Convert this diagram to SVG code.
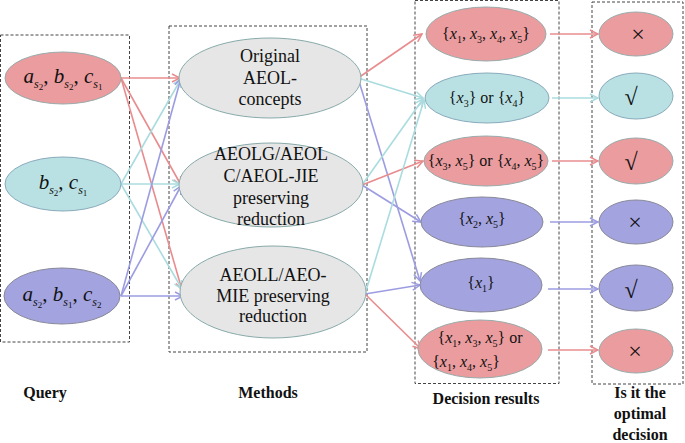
<svg xmlns="http://www.w3.org/2000/svg" width="685" height="443" viewBox="0 0 685 443" font-family="'Liberation Serif','Times New Roman',serif">
<style>
.box{fill:none;stroke:#444;stroke-width:1;stroke-dasharray:3,2}
.r{fill:#eb9c9e;stroke:#9aa;stroke-width:1}
.c{fill:#b9e1e3;stroke:#8ab;stroke-width:1}
.p{fill:#a3a3df;stroke:#889;stroke-width:1}
.g{fill:#e6e6e6;stroke:#8aa;stroke-width:1}
text{fill:#111;font-family:"Liberation Serif","Times New Roman",serif}
.m{font-size:18px;text-anchor:middle}
.sym{font-size:24px;text-anchor:middle}
.mi{font-size:21px;font-style:italic;text-anchor:middle}
.s{font-size:16px;text-anchor:middle}
.lab{font-size:16px;font-weight:bold;text-anchor:middle}
.lr{stroke:#e88c8e;stroke-width:1.6;fill:none}
.lc{stroke:#aadcdf;stroke-width:1.6;fill:none}
.lp{stroke:#9c9ce2;stroke-width:1.6;fill:none}
</style>
<defs>
<marker id="ar" markerWidth="10" markerHeight="10" refX="9" refY="5" orient="auto" markerUnits="userSpaceOnUse"><path d="M1,1 L9,5 L1,9" fill="none" stroke="#e88c8e" stroke-width="1.5"/></marker>
<marker id="ac" markerWidth="10" markerHeight="10" refX="9" refY="5" orient="auto" markerUnits="userSpaceOnUse"><path d="M1,1 L9,5 L1,9" fill="none" stroke="#aadcdf" stroke-width="1.5"/></marker>
<marker id="ap" markerWidth="10" markerHeight="10" refX="9" refY="5" orient="auto" markerUnits="userSpaceOnUse"><path d="M1,1 L9,5 L1,9" fill="none" stroke="#9c9ce2" stroke-width="1.5"/></marker>
</defs>
<rect class="box" x="0.5" y="35" width="129" height="307"/>
<rect class="box" x="169" y="26" width="198" height="326"/>
<rect class="box" x="415" y="0.5" width="144" height="383"/>
<rect class="box" x="592" y="2" width="91" height="382"/>
<g id="connectors">
<line class="lr" x1="121" y1="78" x2="180" y2="78" marker-end="url(#ar)"/>
<line class="lr" x1="121" y1="78" x2="181" y2="185" marker-end="url(#ar)"/>
<line class="lr" x1="121" y1="78" x2="182" y2="290" marker-end="url(#ar)"/>
<line class="lc" x1="121" y1="184" x2="181" y2="79" marker-end="url(#ac)"/>
<line class="lc" x1="121" y1="184" x2="180" y2="184" marker-end="url(#ac)"/>
<line class="lc" x1="121" y1="184" x2="182" y2="289" marker-end="url(#ac)"/>
<line class="lp" x1="121" y1="296" x2="181" y2="78" marker-end="url(#ap)"/>
<line class="lp" x1="121" y1="296" x2="181" y2="186" marker-end="url(#ap)"/>
<line class="lp" x1="121" y1="296" x2="183" y2="296" marker-end="url(#ap)"/>
<line class="lr" x1="358" y1="78" x2="422" y2="34" marker-end="url(#ar)"/>
<line class="lc" x1="358" y1="78" x2="423" y2="98" marker-end="url(#ac)"/>
<line class="lp" x1="358" y1="78" x2="420" y2="281" marker-end="url(#ap)"/>
<line class="lc" x1="362" y1="185" x2="423" y2="99" marker-end="url(#ac)"/>
<line class="lr" x1="362" y1="185" x2="423" y2="161" marker-end="url(#ar)"/>
<line class="lp" x1="362" y1="185" x2="421" y2="222" marker-end="url(#ap)"/>
<line class="lc" x1="365" y1="294" x2="424" y2="100" marker-end="url(#ac)"/>
<line class="lp" x1="365" y1="294" x2="420" y2="285" marker-end="url(#ap)"/>
<line class="lr" x1="365" y1="294" x2="421" y2="349" marker-end="url(#ar)"/>
<line class="lr" x1="550" y1="34" x2="598" y2="34" marker-end="url(#ar)"/>
<line class="lc" x1="552" y1="98" x2="598" y2="98" marker-end="url(#ac)"/>
<line class="lr" x1="552" y1="161" x2="598" y2="161" marker-end="url(#ar)"/>
<line class="lp" x1="550" y1="222" x2="598" y2="222" marker-end="url(#ap)"/>
<line class="lp" x1="548" y1="289" x2="598" y2="289" marker-end="url(#ap)"/>
<line class="lr" x1="548" y1="350" x2="598" y2="350" marker-end="url(#ar)"/>
</g>
<g id="q1"><ellipse class="r" cx="63" cy="78" rx="58" ry="26"/><text class="mi" x="63" y="83">a<tspan font-size="12" dy="5">s</tspan><tspan font-size="9" font-style="normal" dy="2">2</tspan><tspan dy="-7" font-style="normal">, </tspan>b<tspan font-size="12" dy="5">s</tspan><tspan font-size="9" font-style="normal" dy="2">2</tspan><tspan dy="-7" font-style="normal">, </tspan>c<tspan font-size="12" dy="5">s</tspan><tspan font-size="9" font-style="normal" dy="2">1</tspan></text></g>
<g id="q2"><ellipse class="c" cx="63" cy="184" rx="58" ry="27"/><text class="mi" x="63" y="189">b<tspan font-size="12" dy="5">s</tspan><tspan font-size="9" font-style="normal" dy="2">2</tspan><tspan dy="-7" font-style="normal">, </tspan>c<tspan font-size="12" dy="5">s</tspan><tspan font-size="9" font-style="normal" dy="2">1</tspan></text></g>
<g id="q3"><ellipse class="p" cx="62" cy="296" rx="58" ry="28"/><text class="mi" x="62" y="301">a<tspan font-size="12" dy="5">s</tspan><tspan font-size="9" font-style="normal" dy="2">2</tspan><tspan dy="-7" font-style="normal">, </tspan>b<tspan font-size="12" dy="5">s</tspan><tspan font-size="9" font-style="normal" dy="2">1</tspan><tspan dy="-7" font-style="normal">, </tspan>c<tspan font-size="12" dy="5">s</tspan><tspan font-size="9" font-style="normal" dy="2">2</tspan></text></g>
<g id="m1"><ellipse class="g" cx="270" cy="78" rx="91" ry="40"/><text class="m" x="270" y="62">Original</text><text class="m" x="270" y="84">AEOL-</text><text class="m" x="270" y="105">concepts</text></g>
<g id="m2"><ellipse class="g" cx="271" cy="185" rx="92" ry="42"/><text class="m" x="271" y="160">AEOLG/AEOL</text><text class="m" x="271" y="182">C/AEOL-JIE</text><text class="m" x="271" y="204">preserving</text><text class="m" x="271" y="225">reduction</text></g>
<g id="m3"><ellipse class="g" cx="273" cy="292" rx="93" ry="46"/><text class="m" x="273" y="281">AEOLL/AEO-</text><text class="m" x="273" y="302">MIE preserving</text><text class="m" x="273" y="322">reduction</text></g>
<g id="d1"><ellipse class="r" cx="486" cy="34" rx="60" ry="27"/><text class="s" x="486" y="39">{<tspan font-style="italic">x</tspan><tspan font-size="10" dy="4">1</tspan><tspan dy="-4">, </tspan><tspan font-style="italic">x</tspan><tspan font-size="10" dy="4">3</tspan><tspan dy="-4">, </tspan><tspan font-style="italic">x</tspan><tspan font-size="10" dy="4">4</tspan><tspan dy="-4">, </tspan><tspan font-style="italic">x</tspan><tspan font-size="10" dy="4">5</tspan><tspan dy="-4">}</tspan></text></g>
<g id="d2"><ellipse class="c" cx="487" cy="98" rx="62" ry="25"/><text class="s" x="487" y="103">{<tspan font-style="italic">x</tspan><tspan font-size="10" dy="4">3</tspan><tspan dy="-4">} or {</tspan><tspan font-style="italic">x</tspan><tspan font-size="10" dy="4">4</tspan><tspan dy="-4">}</tspan></text></g>
<g id="d3"><ellipse class="r" cx="486" cy="161" rx="62" ry="25"/><text class="s" x="486" y="166">{<tspan font-style="italic">x</tspan><tspan font-size="10" dy="4">3</tspan><tspan dy="-4">, </tspan><tspan font-style="italic">x</tspan><tspan font-size="10" dy="4">5</tspan><tspan dy="-4">} or {</tspan><tspan font-style="italic">x</tspan><tspan font-size="10" dy="4">4</tspan><tspan dy="-4">, </tspan><tspan font-style="italic">x</tspan><tspan font-size="10" dy="4">5</tspan><tspan dy="-4">}</tspan></text></g>
<g id="d4"><ellipse class="p" cx="482" cy="222" rx="61" ry="25"/><text class="s" x="482" y="224">{<tspan font-style="italic">x</tspan><tspan font-size="10" dy="4">2</tspan><tspan dy="-4">, </tspan><tspan font-style="italic">x</tspan><tspan font-size="10" dy="4">5</tspan><tspan dy="-4">}</tspan></text></g>
<g id="d5"><ellipse class="p" cx="481" cy="285" rx="61" ry="27"/><text class="s" x="481" y="288">{<tspan font-style="italic">x</tspan><tspan font-size="10" dy="4">1</tspan><tspan dy="-4">}</tspan></text></g>
<g id="d6"><ellipse class="r" cx="480" cy="349" rx="62" ry="29"/><text class="s" x="480" y="343">{<tspan font-style="italic">x</tspan><tspan font-size="10" dy="4">1</tspan><tspan dy="-4">, </tspan><tspan font-style="italic">x</tspan><tspan font-size="10" dy="4">3</tspan><tspan dy="-4">, </tspan><tspan font-style="italic">x</tspan><tspan font-size="10" dy="4">5</tspan><tspan dy="-4">} or</tspan></text><text class="s" x="466" y="367">{<tspan font-style="italic">x</tspan><tspan font-size="10" dy="4">1</tspan><tspan dy="-4">, </tspan><tspan font-style="italic">x</tspan><tspan font-size="10" dy="4">4</tspan><tspan dy="-4">, </tspan><tspan font-style="italic">x</tspan><tspan font-size="10" dy="4">5</tspan><tspan dy="-4">}</tspan></text></g>
<g id="o1"><ellipse class="r" cx="636" cy="34" rx="37" ry="22"/><text class="sym" x="638" y="42">×</text></g>
<g id="o2"><ellipse class="c" cx="636" cy="96" rx="37" ry="23"/><text class="sym" x="631" y="105">√</text></g>
<g id="o3"><ellipse class="r" cx="636" cy="161" rx="37" ry="23"/><text class="sym" x="631" y="170">√</text></g>
<g id="o4"><ellipse class="p" cx="636" cy="222" rx="37" ry="22"/><text class="sym" x="635" y="230">×</text></g>
<g id="o5"><ellipse class="p" cx="636" cy="288" rx="37" ry="23"/><text class="sym" x="631" y="298">√</text></g>
<g id="o6"><ellipse class="r" cx="636" cy="351" rx="37" ry="22"/><text class="sym" x="635" y="359">×</text></g>
<text class="lab" x="45" y="398">Query</text>
<text class="lab" x="268" y="398">Methods</text>
<text class="lab" x="486" y="404">Decision results</text>
<text class="lab" x="640" y="398">Is it the</text>
<text class="lab" x="640" y="419">optimal</text>
<text class="lab" x="640" y="440">decision</text>
</svg>
